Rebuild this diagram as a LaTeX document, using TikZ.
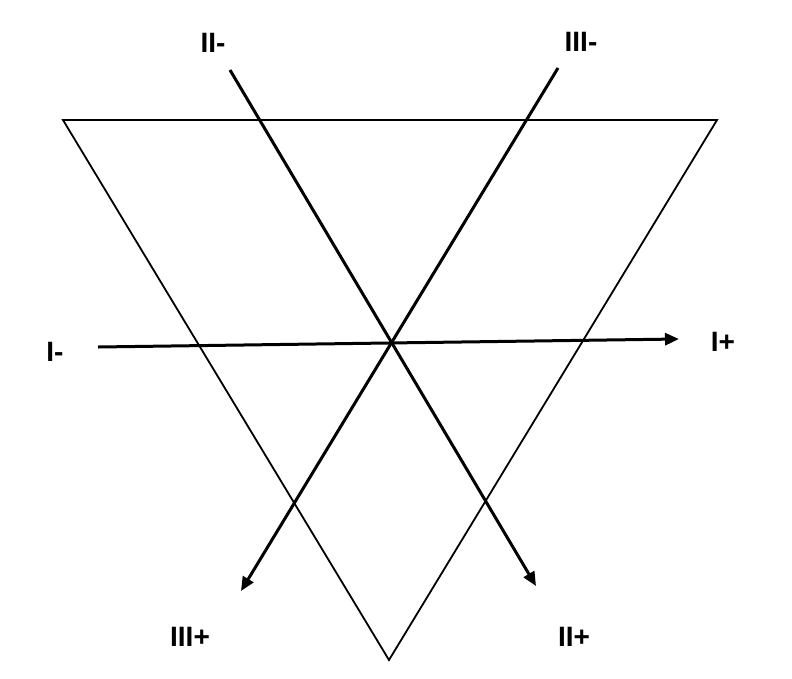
\documentclass[tikz,border=0pt]{standalone}
\usepackage{fontspec}
\setmainfont{Liberation Sans}
\usetikzlibrary{positioning,arrows.meta}

\begin{document}
\begin{tikzpicture}[
		x=1pt, y=-1pt,
		edge/.style = {line width=1.8pt},
		axis/.style = {line width=3pt, -{Triangle[length=14pt, width=12pt]}},
		lbl/.style = {font=\fontsize{28}{30}\selectfont\bfseries, inner sep=0pt}
	]
	\useasboundingbox (0,0) rectangle (792,678);
	\coordinate (tl) at (63,120);
	\coordinate (tr) at (717,120);
	\coordinate (bt) at (389,660);
	\draw[edge, line join=miter] (tl) -- (tr) -- (bt) -- cycle;
	\coordinate (a1) at (98,347);
	\coordinate (b1) at (679,339);
	\coordinate (a2) at (230,70);
	\coordinate (b2) at (536,586);
	\coordinate (a3) at (558,68);
	\coordinate (b3) at (241,591);
	\node[lbl] (m1) at (55,352) {I-};
	\node[lbl] (p1) at (723,342) {I+};
	\node[lbl] (m2) at (213,43) {II-};
	\node[lbl] (p2) at (574,637) {II+};
	\node[lbl] (m3) at (581,42) {III-};
	\node[lbl] (p3) at (190,637) {III+};
	\draw[axis] (a1) -- (b1);
	\draw[axis] (a2) -- (b2);
	\draw[axis] (a3) -- (b3);
\end{tikzpicture}
\end{document}
